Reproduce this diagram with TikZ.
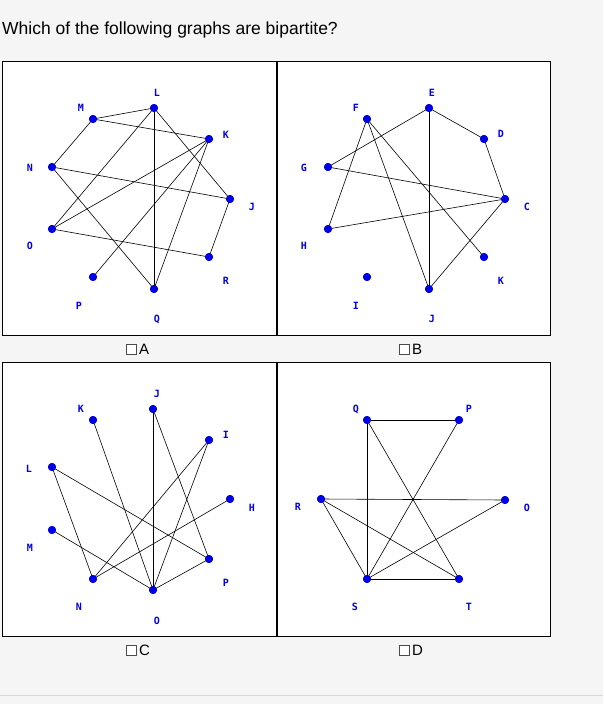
\documentclass[tikz,border=0pt]{standalone}
\usepackage{fontspec}
\setmainfont{Liberation Sans}
\newfontfamily\lblfont{DejaVu Sans Mono}
\begin{document}
\begin{tikzpicture}[x=1pt,y=-1pt,
  v/.style={circle,fill=blue!90!black,inner sep=0pt,minimum size=8pt},
  lb/.style={text=blue!90!black,font=\lblfont\bfseries\fontsize{10}{10}\selectfont,inner sep=0pt},
  e/.style={black,line width=0.6pt},
  panel/.style={draw=black,line width=1pt,fill=white},
  cb/.style={draw=black!70,fill=white,minimum size=10pt,inner sep=0pt,line width=0.6pt}]
\useasboundingbox[fill=black!4] (0,0) rectangle (603,704);
\draw[black!15] (0,695) -- (603,695);
\node[anchor=west,font=\fontsize{17.5}{17.5}\selectfont,inner sep=0pt] (title) at (2,30) {Which of the following graphs are bipartite?};
\draw[panel] (2,61) rectangle (276,335);
\draw[panel] (277,61) rectangle (550,335);
\draw[panel] (2,362) rectangle (276,636);
\draw[panel] (277,362) rectangle (550,636);
% checkboxes
\node[cb] (cbA) at (131,349) {}; \node[anchor=west,font=\fontsize{15}{15}\selectfont,inner sep=0pt] (tA) at (139,349) {A};
\node[cb] (cbB) at (404,349) {}; \node[anchor=west,font=\fontsize{15}{15}\selectfont,inner sep=0pt] (tB) at (412,349) {B};
\node[cb] (cbC) at (131,650) {}; \node[anchor=west,font=\fontsize{15}{15}\selectfont,inner sep=0pt] (tC) at (139,650) {C};
\node[cb] (cbD) at (404,650) {}; \node[anchor=west,font=\fontsize{15}{15}\selectfont,inner sep=0pt] (tD) at (412,650) {D};
% Panel A
\node[v] (aL) at (154,108) {}; \node[v] (aM) at (93,119) {}; \node[v] (aK) at (209,139) {};
\node[v] (aN) at (52,167) {}; \node[v] (aJ) at (230,199) {}; \node[v] (aO) at (52,229) {};
\node[v] (aR) at (209,257) {}; \node[v] (aP) at (93,277) {}; \node[v] (aQ) at (154,289) {};
\node[lb] (laL) at (157,93) {L}; \node[lb] (laM) at (81,108) {M}; \node[lb] (laK) at (226,135) {K};
\node[lb] (laN) at (30,168) {N}; \node[lb] (laJ) at (252,207) {J}; \node[lb] (laO) at (30,246) {O};
\node[lb] (laR) at (226,281) {R}; \node[lb] (laP) at (79,306) {P}; \node[lb] (laQ) at (157,319) {Q};
\foreach \a/\b in {aM/aL,aM/aK,aM/aN,aL/aQ,aL/aJ,aL/aO,aK/aO,aK/aP,aK/aQ,aN/aJ,aN/aQ,aO/aR,aR/aJ}
  \draw[e] (\a.center) -- (\b.center);
% Panel B
\node[v] (bE) at (429,108) {}; \node[v] (bF) at (367,119) {}; \node[v] (bD) at (484,139) {};
\node[v] (bG) at (328,167) {}; \node[v] (bC) at (505,199) {}; \node[v] (bH) at (328,229) {};
\node[v] (bK) at (484,257) {}; \node[v] (bI) at (367,277) {}; \node[v] (bJ) at (429,289) {};
\node[lb] (lbE) at (432,93) {E}; \node[lb] (lbF) at (356,108) {F}; \node[lb] (lbD) at (501,134) {D};
\node[lb] (lbG) at (304,168) {G}; \node[lb] (lbC) at (527,207) {C}; \node[lb] (lbH) at (304,246) {H};
\node[lb] (lbK) at (501,281) {K}; \node[lb] (lbI) at (356,306) {I}; \node[lb] (lbJ) at (432,319) {J};
\foreach \a/\b in {bE/bG,bE/bD,bE/bJ,bD/bC,bF/bH,bF/bJ,bF/bK,bG/bC,bH/bC,bC/bJ}
  \draw[e] (\a.center) -- (\b.center);
% Panel C
\node[v] (cJ) at (153,409) {}; \node[v] (cK) at (93,420) {}; \node[v] (cI) at (209,440) {};
\node[v] (cL) at (52,467) {}; \node[v] (cH) at (230,499) {}; \node[v] (cM) at (52,530) {};
\node[v] (cP) at (209,559) {}; \node[v] (cN) at (93,579) {}; \node[v] (cO) at (153,590) {};
\node[lb] (lcJ) at (157,394) {J}; \node[lb] (lcK) at (81,409) {K}; \node[lb] (lcI) at (226,435) {I};
\node[lb] (lcL) at (29,469) {L}; \node[lb] (lcH) at (252,508) {H}; \node[lb] (lcM) at (30,548) {M};
\node[lb] (lcP) at (226,583) {P}; \node[lb] (lcN) at (79,607) {N}; \node[lb] (lcO) at (157,621) {O};
\foreach \a/\b in {cJ/cO,cJ/cP,cK/cO,cI/cN,cI/cO,cL/cN,cL/cP,cH/cN,cM/cO,cP/cO}
  \draw[e] (\a.center) -- (\b.center);
% Panel D
\node[v] (dQ) at (367,420) {}; \node[v] (dP) at (459,420) {}; \node[v] (dR) at (321,499) {};
\node[v] (dO) at (505,500) {}; \node[v] (dS) at (367,579) {}; \node[v] (dT) at (459,579) {};
\node[lb] (ldQ) at (356,409) {Q}; \node[lb] (ldP) at (469,409) {P}; \node[lb] (ldR) at (298,507) {R};
\node[lb] (ldO) at (527,508) {O}; \node[lb] (ldS) at (355,607) {S}; \node[lb] (ldT) at (469,607) {T};
\foreach \a/\b in {dQ/dP,dQ/dS,dQ/dT,dP/dS,dR/dO,dR/dS,dR/dT,dO/dS,dS/dT}
  \draw[e] (\a.center) -- (\b.center);
\foreach \n in {aL,aM,aK,aN,aJ,aO,aR,aP,aQ,bE,bF,bD,bG,bC,bH,bK,bI,bJ,cJ,cK,cI,cL,cH,cM,cP,cN,cO,dQ,dP,dR,dO,dS,dT}
  \fill[blue!90!black] (\n) circle (4);
\end{tikzpicture}
\end{document}
